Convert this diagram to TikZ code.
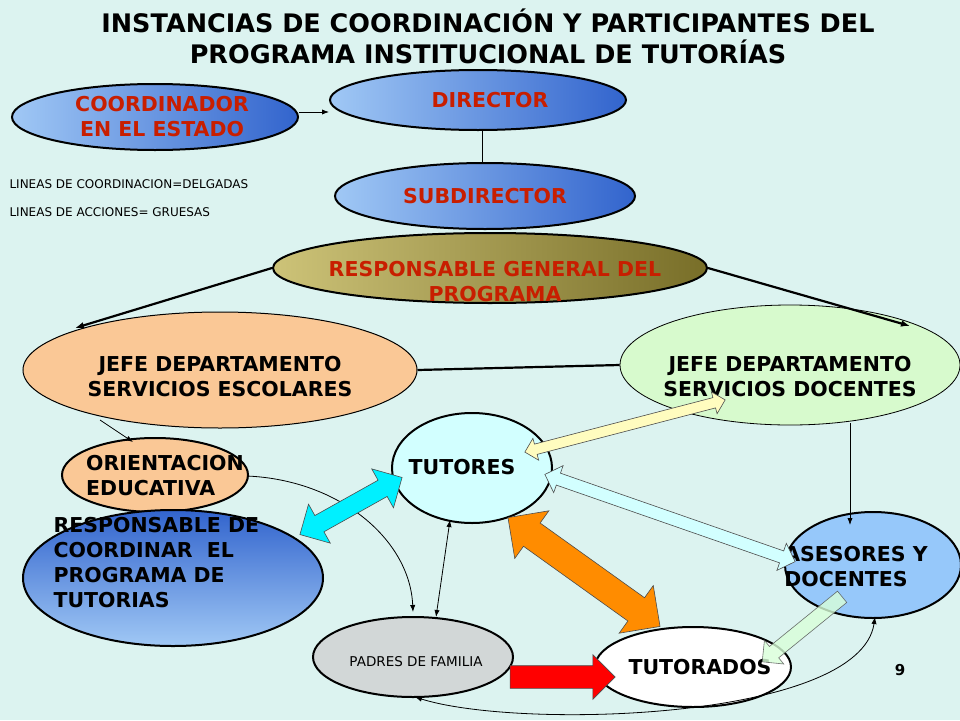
\documentclass[tikz,border=0pt]{standalone}
\usepackage{fontspec}
\setmainfont{DejaVu Sans}
\usetikzlibrary{shapes.geometric,shapes.arrows,arrows.meta}
\definecolor{bg}{RGB}{220,243,240}
\definecolor{lblue}{RGB}{160,200,245}
\definecolor{dblue}{RGB}{50,100,205}
\definecolor{peach}{RGB}{250,200,150}
\definecolor{lgreen}{RGB}{215,250,205}
\definecolor{tcyan}{RGB}{210,255,255}
\definecolor{abl}{RGB}{150,200,250}
\definecolor{pgray}{RGB}{210,215,215}
\definecolor{olivel}{RGB}{205,195,120}
\definecolor{olived}{RGB}{120,110,40}
\definecolor{tred}{RGB}{200,30,0}
\definecolor{acyan}{RGB}{0,240,255}
\tikzset{
 el/.style={ellipse,draw=black,line width=2pt,inner sep=0pt},
 lab/.style={font=\fontsize{20.5}{25}\selectfont\bfseries,align=center},
 thin/.style={draw=black,line width=0.8pt},
 thick/.style={draw=black,line width=2.2pt},
 darr/.style={double arrow,draw=black!70,line width=0.6pt,inner xsep=0pt,anchor=center},
 sarr/.style={single arrow,draw=black!70,line width=0.6pt,inner xsep=0pt,anchor=center},
}
\begin{document}
\begin{tikzpicture}[x=1pt,y=-1pt]
\useasboundingbox[fill=bg] (0,0) rectangle (960,720);
\node[font=\fontsize{25.5}{31}\selectfont\bfseries,align=center] (title) at (488,36) {INSTANCIAS DE COORDINACIÓN Y PARTICIPANTES DEL\\PROGRAMA INSTITUCIONAL DE TUTORÍAS};
% ellipses
\node[el,minimum width=286,minimum height=66,left color=lblue,right color=dblue] (coord) at (155,117) {};
\node[lab,text=tred] at (162,117) {COORDINADOR\\EN EL ESTADO};
\node[el,minimum width=296,minimum height=60,left color=lblue,right color=dblue] (dir) at (478,100) {};
\node[lab,text=tred] at (490,100) {DIRECTOR};
\node[el,minimum width=300,minimum height=66,left color=lblue,right color=dblue] (sub) at (485,196) {};
\node[lab,text=tred] at (485,196) {SUBDIRECTOR};
\node[el,minimum width=434,minimum height=70,left color=olivel,right color=olived] (rg) at (490,268) {};
\node[lab,text=tred] at (495,282) {RESPONSABLE GENERAL DEL\\PROGRAMA};
\node[el,line width=1pt,minimum width=394,minimum height=116,fill=peach] (jes) at (220,370) {};
\node[lab] at (220,377) {JEFE DEPARTAMENTO\\SERVICIOS ESCOLARES};
\node[el,line width=0.8pt,minimum width=340,minimum height=120,fill=lgreen] (jds) at (790,365) {};
\node[lab] at (790,377) {JEFE DEPARTAMENTO\\SERVICIOS DOCENTES};
\node[el,minimum width=186,minimum height=74,fill=peach] (ori) at (155,475) {};
\node[lab,align=left] at (165,476) {ORIENTACION\\EDUCATIVA};
\node[el,minimum width=160,minimum height=110,fill=tcyan] (tut) at (472,468) {};
\node[lab] at (462,467) {TUTORES};
\node[el,minimum width=300,minimum height=136,top color=dblue,bottom color=lblue] (rc) at (173,578) {};
\node[lab,align=left,anchor=north west] at (50,514) {RESPONSABLE DE\\COORDINAR\ \ EL\\PROGRAMA DE\\TUTORIAS};
\node[el,minimum width=176,minimum height=106,fill=abl] (ase) at (873,565) {};
\node[lab,align=left] at (856,567) {ASESORES Y\\DOCENTES};
\node[el,minimum width=200,minimum height=80,fill=pgray] (pad) at (413,657) {};
\node[font=\fontsize{13.5}{16}\selectfont] at (416,662) {PADRES DE FAMILIA};
\node[el,minimum width=196,minimum height=80,fill=white] (tdo) at (693,667) {};
\node[lab] at (700,667) {TUTORADOS};
\node[font=\fontsize{15}{18}\selectfont\bfseries] (nine) at (900,670) {9};
\node[font=\fontsize{12}{14}\selectfont,anchor=west] (n1) at (6,184) {LINEAS DE COORDINACION=DELGADAS};
\node[font=\fontsize{12}{14}\selectfont,anchor=west] (n2) at (6,212) {LINEAS DE ACCIONES= GRUESAS};
% connectors
\draw[thin,-{Latex[length=7pt]}] (coord.east|-0,112) -- (dir.west|-0,112);
\draw[thin] (dir.south-|482,0) -- (sub.north-|482,0);
\draw[thick,-{Latex[length=9pt]}] (rg.west) -- (75,328);
\draw[thick,-{Latex[length=9pt]}] (rg.east) -- (910,326);
\draw[thick] (jes.east) -- (jds.west);
\draw[thin,-{Latex[length=7pt]}] (100,420) -- (133,442);
\draw[thin,-{Latex[length=7pt]}] (247,476) .. controls (340,480) and (410,540) .. (413,612);
\draw[thin,{Latex[length=7pt]}-{Latex[length=7pt]}] (450,520) -- (436,617);
\draw[thin,-{Latex[length=7pt]}] (850,423) -- (850,525);
\draw[thin,{Latex[length=7pt]}-{Latex[length=7pt]}] (415,697) .. controls (520,730) and (860,720) .. (875,617);
% block arrows
\node[darr,fill=acyan,rotate=29.2,minimum height=117,inner ysep=9,double arrow head extend=13] (a1) at (351,506) {};
\node[darr,fill=yellow!25,rotate=14.6,minimum height=207,inner ysep=5,double arrow head extend=6] (a2) at (625,426) {};
\node[darr,fill=tcyan,rotate=-19.2,minimum height=265,inner ysep=6,double arrow head extend=8] (a3) at (670,518) {};
\node[darr,fill=orange!90!yellow,rotate=-35.6,minimum height=187,inner ysep=14,double arrow head extend=15] (a4) at (584,572) {};
\node[sarr,fill=green!15,opacity=0.8,rotate=-140.9,minimum height=103,inner ysep=7,single arrow head extend=8] (a5) at (805,627) {};
\node[sarr,fill=red,rotate=0,minimum height=105,inner ysep=11,single arrow head extend=11] (a6) at (557,677) {};
\end{tikzpicture}
\end{document}
